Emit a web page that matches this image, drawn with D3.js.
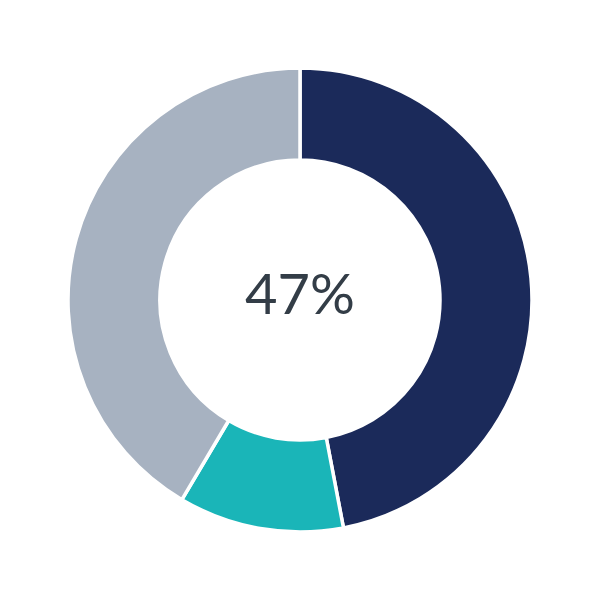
<!DOCTYPE html>
<html>
<head>
    <script src="https://d3js.org/d3.v7.min.js"></script>
    <style>
        body { margin: 0; background: #fff; }
        .label {
            font-family: Lato, sans-serif;
            font-size: 56px;
            fill: #333d47;
            text-anchor: middle;
            dominant-baseline: central;
        }
    </style>
</head>
<body>
    <div id="chart"></div>
    <script>
        // Segment data (percent)
        const categories = ["Navy", "Teal", "Gray"];
        const values = [47, 11.5, 41.5];
        const colors = ["#1b2a5a", "#1ab5b8", "#a7b2c1"];
        const centerLabel = "47%";

        const width = 600, height = 600;
        const outerR = 232, innerR = 140;

        const svg = d3.select("#chart")
            .append("svg")
            .attr("width", width)
            .attr("height", height)
            .append("g")
            .attr("transform", `translate(${width / 2},${height / 2})`);

        const color = d3.scaleOrdinal().domain(categories).range(colors);

        const pie = d3.pie().sort(null).value(d => d.value);
        const arc = d3.arc().innerRadius(innerR).outerRadius(outerR);

        const data = categories.map((c, i) => ({ name: c, value: values[i] }));

        svg.selectAll("path")
            .data(pie(data))
            .enter()
            .append("path")
            .attr("d", arc)
            .attr("fill", d => color(d.data.name))
            .attr("stroke", "#fff")
            .attr("stroke-width", 3.5);

        svg.append("text")
            .attr("class", "label")
            .attr("y", -8)
            .text(centerLabel);
    </script>
</body>
</html>
